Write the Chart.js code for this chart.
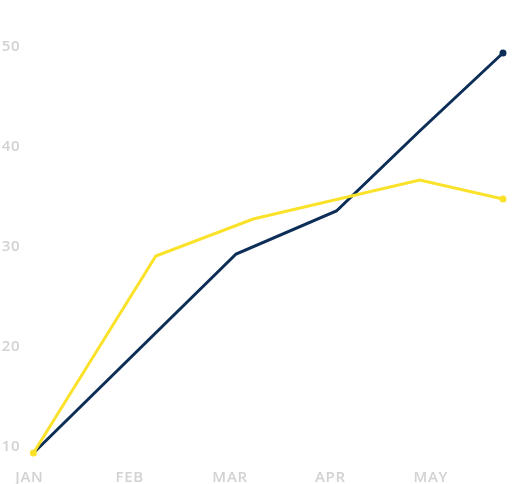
<!DOCTYPE html>
<html>
<head>
<meta charset="utf-8">
<script src="https://cdn.jsdelivr.net/npm/chart.js@4/dist/chart.umd.min.js"></script>
<style>
    html, body { margin: 0; padding: 0; background: #fff; }
    #wrap { width: 531px; height: 484px; }
</style>
</head>
<body>
<div id="wrap"><canvas id="lineChart" width="531" height="484"></canvas></div>
<script>
// months on the x axis (0 = JAN)
const monthLabels = ["JAN", "FEB", "MAR", "APR", "MAY"];
const yTicks = [10, 20, 30, 40, 50];

const navyX = [0.04, 2.06, 3.06, 3.89, 4.72];
const navyY = [9.4, 29.3, 33.6, 41.6, 49.4];

const yellowX = [0.04, 1.26, 2.23, 3.89, 4.72];
const yellowY = [9.4, 29.1, 32.8, 36.7, 34.8];

const navy = "#0d2e57";
const yellow = "#fbe22a";
const labelGrey = "#d2d2d2";

function toPoints(xs, ys) {
    return xs.map((x, i) => ({ x: x, y: ys[i] }));
}

// only the first and last point get a dot
function endDots(n, r) {
    return Array.from({ length: n }, (_, i) => (i === 0 || i === n - 1) ? r : 0);
}

// the original labels use a wide font, so space the letters out a little
const wideLabels = {
    id: 'wideLabels',
    beforeDraw(chart) {
        chart.ctx.letterSpacing = '0.7px';
    }
};

const ctx = document.getElementById('lineChart').getContext('2d');
new Chart(ctx, {
    type: 'line',
    plugins: [wideLabels],
    data: {
        datasets: [
            {
                label: 'Yellow',
                data: toPoints(yellowX, yellowY),
                borderColor: yellow,
                backgroundColor: yellow,
                borderWidth: 3,
                pointRadius: endDots(yellowX.length, 3.5),
                pointBorderWidth: 0,
                tension: 0
            },
            {
                label: 'Navy',
                data: toPoints(navyX, navyY),
                borderColor: navy,
                backgroundColor: navy,
                borderWidth: 3,
                pointRadius: [0, 0, 0, 0, 3.5],
                pointBorderWidth: 0,
                tension: 0
            }
        ]
    },
    options: {
        responsive: false,
        animation: false,
        layout: {
            padding: { top: 41, right: 20, bottom: 0, left: 0 }
        },
        plugins: {
            legend: { display: false },
            tooltip: { enabled: false }
        },
        scales: {
            x: {
                type: 'linear',
                min: 0,
                max: 4.8,
                grid: { display: false, drawTicks: false },
                border: { display: false },
                afterBuildTicks: (scale) => {
                    scale.ticks = monthLabels.map((m, i) => ({ value: i }));
                },
                afterFit: (scale) => { scale.height = 25; },
                ticks: {
                    padding: 10,
                    maxRotation: 0,
                    autoSkip: false,
                    color: labelGrey,
                    font: { family: "'Open Sans'", size: 15, weight: '600' },
                    callback: (v) => monthLabels[v] || ''
                }
            },
            y: {
                min: 8.8,
                max: 50.6,
                grid: { display: false, drawTicks: false },
                border: { display: false },
                afterBuildTicks: (scale) => {
                    scale.ticks = yTicks.map(v => ({ value: v }));
                },
                afterFit: (scale) => { scale.width = 29.4; },
                ticks: {
                    padding: 9,
                    color: labelGrey,
                    font: { family: "'Open Sans'", size: 15, weight: '600' }
                }
            }
        }
    }
});
</script>
</body>
</html>
